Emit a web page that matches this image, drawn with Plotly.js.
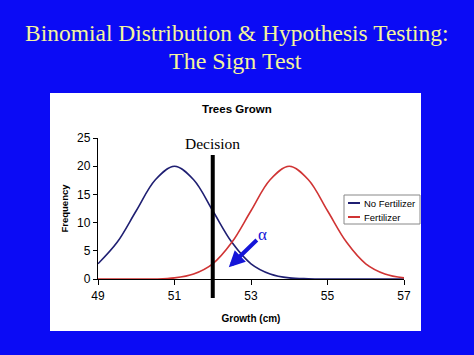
<!DOCTYPE html>
<html>
<head>
<meta charset="utf-8">
<script src="https://cdn.plot.ly/plotly-3.0.1.min.js"></script>
<style>html,body{margin:0;padding:0;background:#0b0bf5;}#chart{width:474px;height:355px;}</style>
</head>
<body>
<div id="chart"></div>
<script>
// Data
const growth = [49, 49.5, 50, 50.5, 51, 51.5, 52, 52.5, 53, 53.5, 54, 54.5, 55, 55.5, 56, 56.5, 57];
const noFertilizer = [2.7, 6.5, 12.1, 17.6, 20, 17.6, 12.1, 6.5, 2.7, 0.9, 0.2, 0.04, 0, 0, 0, 0, 0];
const fertilizer = [0, 0, 0, 0, 0.2, 0.9, 2.7, 6.5, 12.1, 17.6, 20, 17.6, 12.1, 6.5, 2.7, 0.9, 0.2];
const seriesNames = ['No Fertilizer', 'Fertilizer'];
const xTicks = [49, 51, 53, 55, 57];
const yTicks = [0, 5, 10, 15, 20, 25];
const decisionX = 52;
const alphaTip = [52.42, 2.1];

const traces = [
  {x: growth, y: noFertilizer, name: seriesNames[0], type: 'scatter', mode: 'lines',
   line: {color: '#1f1f72', width: 1.6, shape: 'spline'}, showlegend: false},
  {x: growth, y: fertilizer, name: seriesNames[1], type: 'scatter', mode: 'lines',
   line: {color: '#d03434', width: 1.6, shape: 'spline'}, showlegend: false}
];

const L = 98, R = 404, T = 138, B = 279;
const px = v => (v - L) / (R - L);
const py = v => (B - v) / (B - T);

const layout = {
  width: 474, height: 355,
  margin: {l: L, r: 474 - R, t: T, b: 355 - B},
  paper_bgcolor: '#0b0bf5',
  plot_bgcolor: 'rgba(0,0,0,0)',
  showlegend: false,
  font: {family: 'Liberation Sans, Arial, sans-serif', color: '#000'},
  xaxis: {
    range: [49, 57], tickvals: xTicks, ticktext: xTicks.map(String),
    showline: true, linecolor: '#000', linewidth: 1.2, showgrid: false, zeroline: false,
    ticks: 'outside', ticklen: 5, tickcolor: '#000', tickfont: {size: 12},
    title: {text: 'Growth (cm)', font: {size: 10, weight: 'bold'}, standoff: 13}
  },
  yaxis: {
    range: [0, 25], tickvals: yTicks,
    showline: true, linecolor: '#000', linewidth: 1.2, showgrid: false, zeroline: false,
    ticks: 'outside', ticklen: 4, tickcolor: '#000', tickfont: {size: 12},
    title: {text: 'Frequency', font: {size: 9.5, weight: 'bold'}, standoff: 6}
  },
  shapes: [
    {type: 'rect', xref: 'paper', yref: 'paper', x0: px(50), x1: px(421), y0: py(331), y1: py(93),
     fillcolor: '#ffffff', line: {width: 0}, layer: 'below'},
    {type: 'line', xref: 'x', yref: 'paper', x0: decisionX, x1: decisionX, y0: py(298), y1: py(155),
     line: {color: '#000', width: 4}},
    {type: 'rect', xref: 'paper', yref: 'paper', x0: px(344), x1: px(420), y0: py(224), y1: py(195),
     fillcolor: '#fff', line: {color: '#888', width: 1}},
    {type: 'line', xref: 'paper', yref: 'paper', x0: px(348), x1: px(360), y0: py(203), y1: py(203),
     line: {color: '#1f1f72', width: 2}},
    {type: 'line', xref: 'paper', yref: 'paper', x0: px(348), x1: px(360), y0: py(217), y1: py(217),
     line: {color: '#d03434', width: 2}}
  ],
  annotations: [
    {text: 'Binomial Distribution &amp; Hypothesis Testing:', xref: 'paper', yref: 'paper',
     x: px(237), y: py(33), xanchor: 'center', yanchor: 'middle', showarrow: false,
     font: {family: 'Liberation Serif, Times New Roman, serif', size: 23.5, color: '#f4f49c'}},
    {text: 'The Sign Test', xref: 'paper', yref: 'paper',
     x: px(235), y: py(61), xanchor: 'center', yanchor: 'middle', showarrow: false,
     font: {family: 'Liberation Serif, Times New Roman, serif', size: 24, color: '#f4f49c'}},
    {text: '<b>Trees Grown</b>', xref: 'paper', yref: 'paper', x: px(236.5), y: py(109),
     xanchor: 'center', yanchor: 'middle', showarrow: false, font: {size: 11.5}},
    {text: 'Decision', xref: 'x', yref: 'paper', x: decisionX, y: py(143),
     xanchor: 'center', yanchor: 'middle', showarrow: false,
     font: {family: 'Liberation Serif, Times New Roman, serif', size: 15.5}},
    {text: 'α', xref: 'x', yref: 'y', x: alphaTip[0], y: alphaTip[1], ax: 34, ay: -33,
     showarrow: true, arrowhead: 2, arrowsize: 0.8, arrowwidth: 4, arrowcolor: '#1515d8',
     font: {family: 'Liberation Serif, Times New Roman, serif', size: 17, color: '#1515d8'}},
    {text: seriesNames[0], xref: 'paper', yref: 'paper', x: px(362), y: py(203),
     xanchor: 'left', yanchor: 'middle', showarrow: false, font: {size: 9.5}},
    {text: seriesNames[1], xref: 'paper', yref: 'paper', x: px(362), y: py(217),
     xanchor: 'left', yanchor: 'middle', showarrow: false, font: {size: 9.5}}
  ]
};

Plotly.newPlot('chart', traces, layout, {displayModeBar: false, staticPlot: true});
</script>
</body>
</html>
